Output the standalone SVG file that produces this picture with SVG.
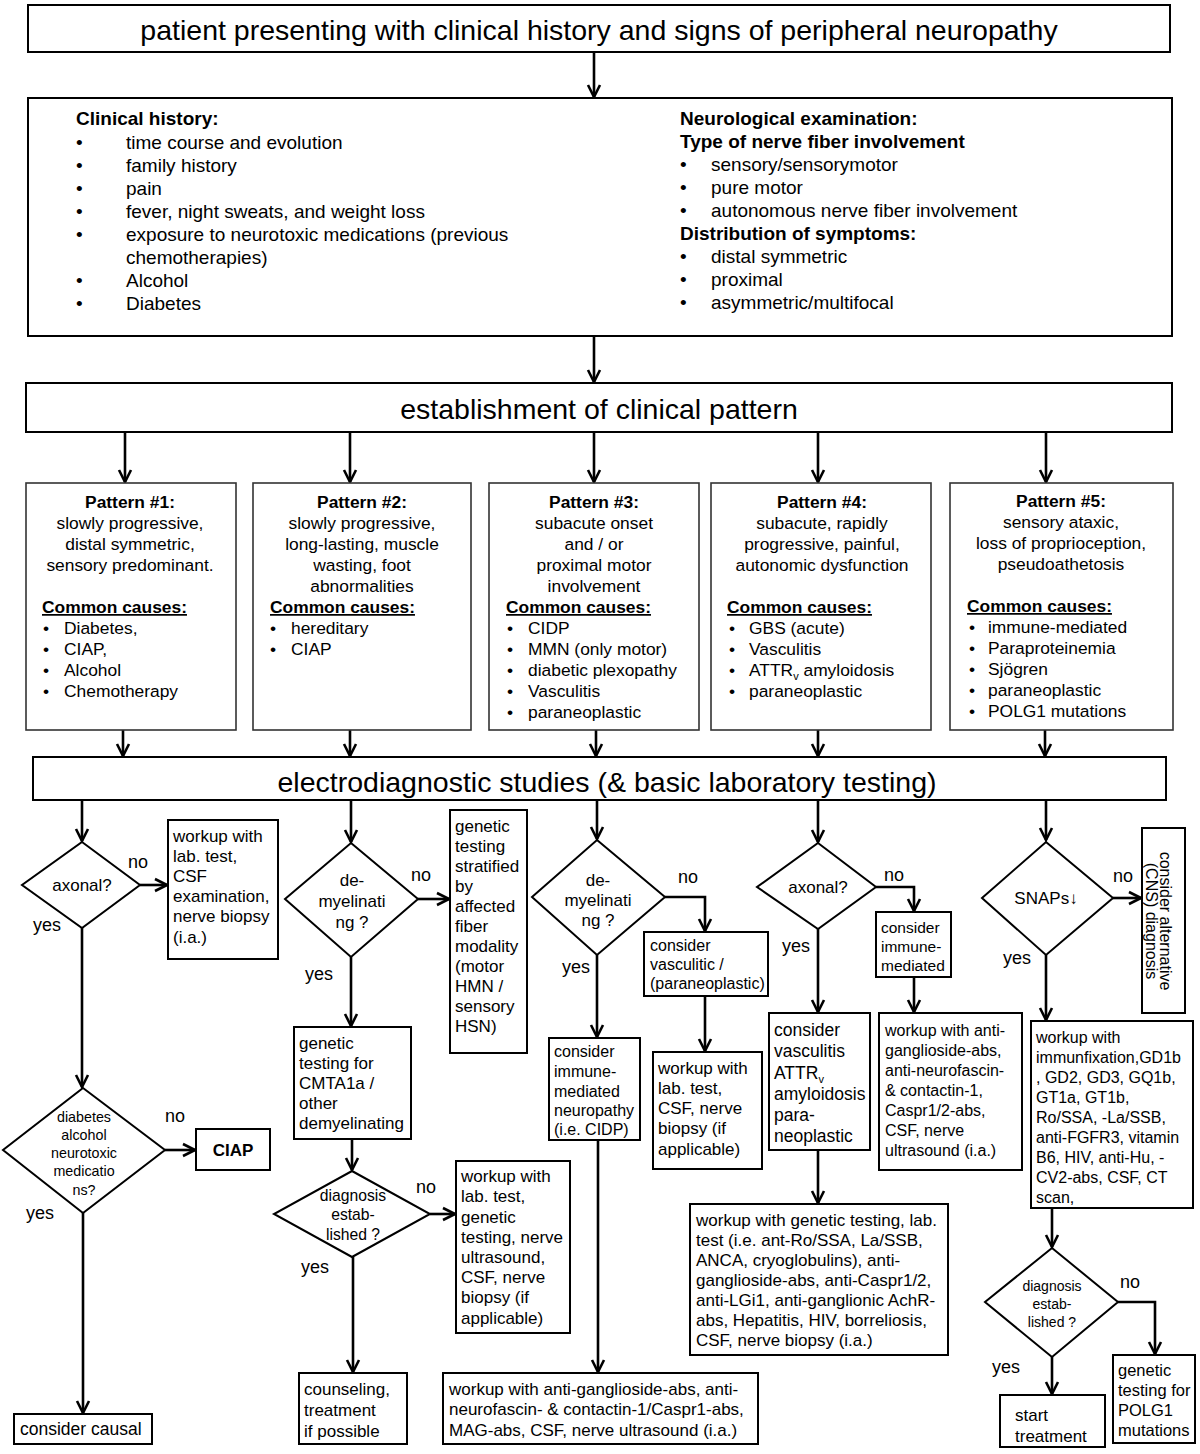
<svg xmlns="http://www.w3.org/2000/svg" width="1200" height="1454" viewBox="0 0 1200 1454">
<style>
text{font-family:"Liberation Sans",Arial,sans-serif;fill:#000}
.big{font-size:28.5px}
.cl{font-size:19px}
.pt{font-size:17.4px}
.bx{font-size:17px}
.b16{font-size:16px}
.lbl{font-size:18px}
.b{font-weight:bold}
.u{text-decoration:underline}
.mid{text-anchor:middle}
.box{fill:#fff;stroke:#000;stroke-width:2}
.pbox{fill:#fff;stroke:#333;stroke-width:1.6}
.con{fill:none;stroke:#000;stroke-width:2.6;marker-end:url(#ah)}
</style>
<defs>
<marker id="ah" markerUnits="userSpaceOnUse" markerWidth="16" markerHeight="16" viewBox="0 0 16 16" refX="14" refY="8" orient="auto">
<path d="M2,2 L14,8 L2,14" fill="none" stroke="#000" stroke-width="2.6"/>
</marker>
</defs>
<rect width="1200" height="1454" fill="#fff"/>

<g id="connectors">
<line class="con" x1="594" y1="52" x2="594" y2="97"/>
<line class="con" x1="594" y1="336" x2="594" y2="382"/>
<line class="con" x1="125" y1="432" x2="125" y2="482"/>
<line class="con" x1="350" y1="432" x2="350" y2="482"/>
<line class="con" x1="594" y1="432" x2="594" y2="482"/>
<line class="con" x1="818" y1="432" x2="818" y2="482"/>
<line class="con" x1="1046" y1="432" x2="1046" y2="482"/>
<line class="con" x1="123" y1="730" x2="123" y2="756"/>
<line class="con" x1="350" y1="730" x2="350" y2="756"/>
<line class="con" x1="596" y1="730" x2="596" y2="756"/>
<line class="con" x1="818" y1="730" x2="818" y2="756"/>
<line class="con" x1="1045" y1="730" x2="1045" y2="756"/>
<line class="con" x1="82" y1="800" x2="82" y2="841"/>
<line class="con" x1="140" y1="885" x2="167" y2="885"/>
<line class="con" x1="82" y1="928" x2="82" y2="1087"/>
<line class="con" x1="165" y1="1150" x2="195" y2="1150"/>
<line class="con" x1="83" y1="1213" x2="83" y2="1413"/>
<line class="con" x1="351" y1="800" x2="351" y2="842"/>
<line class="con" x1="418" y1="899" x2="449" y2="899"/>
<line class="con" x1="351" y1="957" x2="351" y2="1026"/>
<line class="con" x1="352" y1="1139" x2="352" y2="1170"/>
<line class="con" x1="430" y1="1214" x2="455" y2="1214"/>
<line class="con" x1="353" y1="1257" x2="353" y2="1372"/>
<line class="con" x1="597" y1="800" x2="597" y2="839"/>
<polyline class="con" points="665,897 705,897 705,931"/>
<line class="con" x1="597" y1="955" x2="597" y2="1037"/>
<line class="con" x1="705" y1="996" x2="705" y2="1051"/>
<line class="con" x1="598" y1="1140" x2="598" y2="1372"/>
<line class="con" x1="818" y1="800" x2="818" y2="842"/>
<polyline class="con" points="876,887 914,887 914,911"/>
<line class="con" x1="818" y1="929" x2="818" y2="1012"/>
<line class="con" x1="914" y1="977" x2="914" y2="1012"/>
<line class="con" x1="818" y1="1150" x2="818" y2="1203"/>
<line class="con" x1="1046" y1="800" x2="1046" y2="840"/>
<line class="con" x1="1113" y1="898" x2="1141" y2="898"/>
<line class="con" x1="1046" y1="955" x2="1046" y2="1020"/>
<line class="con" x1="1052" y1="1208" x2="1052" y2="1247"/>
<polyline class="con" points="1118,1302 1155,1302 1155,1354"/>
<line class="con" x1="1052" y1="1357" x2="1052" y2="1394"/>
</g>

<g id="top">
<rect class="box" x="28" y="5" width="1142" height="47"/>
<text class="big mid" x="599" y="40">patient presenting with clinical history and signs of peripheral neuropathy</text>
</g>

<g id="history">
<rect class="box" x="28" y="98" width="1144" height="238"/>
<text class="cl b" x="76" y="125">Clinical history:</text>
<text class="cl" x="76" y="149">•</text><text class="cl" x="126" y="149">time course and evolution</text>
<text class="cl" x="76" y="172">•</text><text class="cl" x="126" y="172">family history</text>
<text class="cl" x="76" y="195">•</text><text class="cl" x="126" y="195">pain</text>
<text class="cl" x="76" y="218">•</text><text class="cl" x="126" y="218">fever, night sweats, and weight loss</text>
<text class="cl" x="76" y="241">•</text><text class="cl" x="126" y="241">exposure to neurotoxic medications (previous</text>
<text class="cl" x="126" y="264">chemotherapies)</text>
<text class="cl" x="76" y="287">•</text><text class="cl" x="126" y="287">Alcohol</text>
<text class="cl" x="76" y="310">•</text><text class="cl" x="126" y="310">Diabetes</text>
<text class="cl b" x="680" y="125">Neurological examination:</text>
<text class="cl b" x="680" y="148">Type of nerve fiber involvement</text>
<text class="cl" x="680" y="171">•</text><text class="cl" x="711" y="171">sensory/sensorymotor</text>
<text class="cl" x="680" y="194">•</text><text class="cl" x="711" y="194">pure motor</text>
<text class="cl" x="680" y="217">•</text><text class="cl" x="711" y="217">autonomous nerve fiber involvement</text>
<text class="cl b" x="680" y="240">Distribution of symptoms:</text>
<text class="cl" x="680" y="263">•</text><text class="cl" x="711" y="263">distal symmetric</text>
<text class="cl" x="680" y="286">•</text><text class="cl" x="711" y="286">proximal</text>
<text class="cl" x="680" y="309">•</text><text class="cl" x="711" y="309">asymmetric/multifocal</text>
</g>

<g id="establishment">
<rect class="box" x="26" y="383" width="1146" height="49"/>
<text class="big mid" x="599" y="419">establishment of clinical pattern</text>
</g>

<g id="pattern1">
<rect class="pbox" x="26" y="483" width="210" height="247"/>
<text class="pt b mid" x="130" y="508">Pattern #1:</text>
<text class="pt mid" x="130" y="529">slowly progressive,</text>
<text class="pt mid" x="130" y="550">distal symmetric,</text>
<text class="pt mid" x="130" y="571">sensory predominant.</text>
<text class="pt b u" x="42" y="613">Common causes:</text>
<text class="pt" x="43" y="634">•</text><text class="pt" x="64" y="634">Diabetes,</text>
<text class="pt" x="43" y="655">•</text><text class="pt" x="64" y="655">CIAP,</text>
<text class="pt" x="43" y="676">•</text><text class="pt" x="64" y="676">Alcohol</text>
<text class="pt" x="43" y="697">•</text><text class="pt" x="64" y="697">Chemotherapy</text>
</g>

<g id="pattern2">
<rect class="pbox" x="253" y="483" width="218" height="247"/>
<text class="pt b mid" x="362" y="508">Pattern #2:</text>
<text class="pt mid" x="362" y="529">slowly progressive,</text>
<text class="pt mid" x="362" y="550">long-lasting, muscle</text>
<text class="pt mid" x="362" y="571">wasting, foot</text>
<text class="pt mid" x="362" y="592">abnormalities</text>
<text class="pt b u" x="270" y="613">Common causes:</text>
<text class="pt" x="270" y="634">•</text><text class="pt" x="291" y="634">hereditary</text>
<text class="pt" x="270" y="655">•</text><text class="pt" x="291" y="655">CIAP</text>
</g>

<g id="pattern3">
<rect class="pbox" x="489" y="483" width="210" height="247"/>
<text class="pt b mid" x="594" y="508">Pattern #3:</text>
<text class="pt mid" x="594" y="529">subacute onset</text>
<text class="pt mid" x="594" y="550">and / or</text>
<text class="pt mid" x="594" y="571">proximal motor</text>
<text class="pt mid" x="594" y="592">involvement</text>
<text class="pt b u" x="506" y="613">Common causes:</text>
<text class="pt" x="507" y="634">•</text><text class="pt" x="528" y="634">CIDP</text>
<text class="pt" x="507" y="655">•</text><text class="pt" x="528" y="655">MMN (only motor)</text>
<text class="pt" x="507" y="676">•</text><text class="pt" x="528" y="676">diabetic plexopathy</text>
<text class="pt" x="507" y="697">•</text><text class="pt" x="528" y="697">Vasculitis</text>
<text class="pt" x="507" y="718">•</text><text class="pt" x="528" y="718">paraneoplastic</text>
</g>

<g id="pattern4">
<rect class="pbox" x="711" y="483" width="220" height="247"/>
<text class="pt b mid" x="822" y="508">Pattern #4:</text>
<text class="pt mid" x="822" y="529">subacute, rapidly</text>
<text class="pt mid" x="822" y="550">progressive, painful,</text>
<text class="pt mid" x="822" y="571">autonomic dysfunction</text>
<text class="pt b u" x="727" y="613">Common causes:</text>
<text class="pt" x="729" y="634">•</text><text class="pt" x="749" y="634">GBS (acute)</text>
<text class="pt" x="729" y="655">•</text><text class="pt" x="749" y="655">Vasculitis</text>
<text class="pt" x="729" y="676">•</text><text class="pt" x="749" y="676">ATTR<tspan font-size="11" dy="4">v</tspan><tspan dy="-4"> amyloidosis</tspan></text>
<text class="pt" x="729" y="697">•</text><text class="pt" x="749" y="697">paraneoplastic</text>
</g>

<g id="pattern5">
<rect class="pbox" x="950" y="483" width="223" height="247"/>
<text class="pt b mid" x="1061" y="507">Pattern #5:</text>
<text class="pt mid" x="1061" y="528">sensory ataxic,</text>
<text class="pt mid" x="1061" y="549">loss of proprioception,</text>
<text class="pt mid" x="1061" y="570">pseudoathetosis</text>
<text class="pt b u" x="967" y="612">Common causes:</text>
<text class="pt" x="969" y="633">•</text><text class="pt" x="988" y="633">immune-mediated</text>
<text class="pt" x="969" y="654">•</text><text class="pt" x="988" y="654">Paraproteinemia</text>
<text class="pt" x="969" y="675">•</text><text class="pt" x="988" y="675">Sjögren</text>
<text class="pt" x="969" y="696">•</text><text class="pt" x="988" y="696">paraneoplastic</text>
<text class="pt" x="969" y="717">•</text><text class="pt" x="988" y="717">POLG1 mutations</text>
</g>

<g id="electro">
<rect class="box" x="33" y="757" width="1133" height="43"/>
<text class="big mid" x="607" y="792">electrodiagnostic studies (&amp; basic laboratory testing)</text>
</g>

<g id="d-axonal1">
<polygon class="box" points="82,842 140,885 82,928 22,885"/>
<text class="mid" font-size="17" x="82" y="891">axonal?</text>
</g>
<g id="b-workup1">
<rect class="box" x="168" y="820" width="110" height="139"/>
<text class="bx" x="173" y="842">workup with</text>
<text class="bx" x="173" y="862">lab. test,</text>
<text class="bx" x="173" y="882">CSF</text>
<text class="bx" x="173" y="902">examination,</text>
<text class="bx" x="173" y="922">nerve biopsy</text>
<text class="bx" x="173" y="943">(i.a.)</text>
</g>
<g id="d-diabetes">
<polygon class="box" points="83,1088 165,1150 83,1213 3,1150"/>
<g font-size="14.3">
<text class="mid" x="84" y="1122">diabetes</text>
<text class="mid" x="84" y="1140">alcohol</text>
<text class="mid" x="84" y="1158">neurotoxic</text>
<text class="mid" x="84" y="1176">medicatio</text>
<text class="mid" x="84" y="1195">ns?</text>
</g>
</g>
<g id="b-ciap">
<rect class="box" x="196" y="1129" width="74" height="41"/>
<text class="bx b mid" x="233" y="1156">CIAP</text>
</g>
<g id="b-causal">
<rect class="box" x="14" y="1414" width="138" height="30"/>
<text font-size="17.5" x="20" y="1435">consider causal</text>
</g>

<g id="d-demyel1">
<polygon class="box" points="351,843 418,899 351,957 285,899"/>
<text class="bx mid" x="352" y="886">de-</text>
<text class="bx mid" x="352" y="907">myelinati</text>
<text class="bx mid" x="352" y="928">ng ?</text>
</g>
<g id="b-genetic-strat">
<rect class="box" x="450" y="810" width="77" height="243"/>
<text class="bx" x="455" y="832">genetic</text>
<text class="bx" x="455" y="852">testing</text>
<text class="bx" x="455" y="872">stratified</text>
<text class="bx" x="455" y="892">by</text>
<text class="bx" x="455" y="912">affected</text>
<text class="bx" x="455" y="932">fiber</text>
<text class="bx" x="455" y="952">modality</text>
<text class="bx" x="455" y="972">(motor</text>
<text class="bx" x="455" y="992">HMN /</text>
<text class="bx" x="455" y="1012">sensory</text>
<text class="bx" x="455" y="1032">HSN)</text>
</g>
<g id="b-cmt">
<rect class="box" x="294" y="1027" width="117" height="112"/>
<text class="bx" x="299" y="1049">genetic</text>
<text class="bx" x="299" y="1069">testing for</text>
<text class="bx" x="299" y="1089">CMTA1a /</text>
<text class="bx" x="299" y="1109">other</text>
<text class="bx" x="299" y="1129">demyelinating</text>
</g>
<g id="d-diag1">
<polygon class="box" points="352,1171 430,1214 352,1257 274,1214"/>
<g font-size="15.7">
<text class="mid" x="353" y="1201">diagnosis</text>
<text class="mid" x="353" y="1220">estab-</text>
<text class="mid" x="353" y="1240">lished ?</text>
</g>
</g>
<g id="b-workup2">
<rect class="box" x="456" y="1161" width="114" height="172"/>
<text class="bx" x="461" y="1182">workup with</text>
<text class="bx" x="461" y="1202">lab. test,</text>
<text class="bx" x="461" y="1223">genetic</text>
<text class="bx" x="461" y="1243">testing, nerve</text>
<text class="bx" x="461" y="1263">ultrasound,</text>
<text class="bx" x="461" y="1283">CSF, nerve</text>
<text class="bx" x="461" y="1303">biopsy (if</text>
<text class="bx" x="461" y="1324">applicable)</text>
</g>
<g id="b-counsel">
<rect class="box" x="299" y="1373" width="108" height="71"/>
<text class="bx" x="304" y="1395">counseling,</text>
<text class="bx" x="304" y="1416">treatment</text>
<text class="bx" x="304" y="1437">if possible</text>
</g>

<g id="d-demyel2">
<polygon class="box" points="597,840 665,897 597,955 532,897"/>
<text class="bx mid" x="598" y="886">de-</text>
<text class="bx mid" x="598" y="906">myelinati</text>
<text class="bx mid" x="598" y="926">ng ?</text>
</g>
<g id="b-vasculitic">
<rect class="box" x="644" y="932" width="124" height="64"/>
<text class="b16" x="650" y="951">consider</text>
<text class="b16" x="650" y="970">vasculitic /</text>
<text class="b16" x="650" y="989">(paraneoplastic)</text>
</g>
<g id="b-immune1">
<rect class="box" x="549" y="1038" width="91" height="102"/>
<text class="b16" x="554" y="1057">consider</text>
<text class="b16" x="554" y="1077">immune-</text>
<text class="b16" x="554" y="1097">mediated</text>
<text class="b16" x="554" y="1116">neuropathy</text>
<text class="b16" x="554" y="1135">(i.e. CIDP)</text>
</g>
<g id="b-workup3">
<rect class="box" x="653" y="1052" width="109" height="117"/>
<text class="bx" x="658" y="1074">workup with</text>
<text class="bx" x="658" y="1094">lab. test,</text>
<text class="bx" x="658" y="1114">CSF, nerve</text>
<text class="bx" x="658" y="1134">biopsy (if</text>
<text class="bx" x="658" y="1155">applicable)</text>
</g>
<g id="b-workup4">
<rect class="box" x="443" y="1373" width="315" height="71"/>
<text class="bx" x="449" y="1395">workup with anti-ganglioside-abs, anti-</text>
<text class="bx" x="449" y="1415">neurofascin- &amp; contactin-1/Caspr1-abs,</text>
<text class="bx" x="449" y="1436">MAG-abs, CSF, nerve ultrasound (i.a.)</text>
</g>

<g id="d-axonal2">
<polygon class="box" points="818,843 876,887 818,929 757,887"/>
<text class="mid" font-size="17" x="818" y="893">axonal?</text>
</g>
<g id="b-immune2">
<rect class="box" x="876" y="912" width="75" height="65"/>
<g font-size="15.5">
<text x="881" y="933">consider</text>
<text x="881" y="952">immune-</text>
<text x="881" y="971">mediated</text>
</g>
</g>
<g id="b-vasc2">
<rect class="box" x="769" y="1013" width="101" height="137"/>
<g font-size="17.5">
<text x="774" y="1036">consider</text>
<text x="774" y="1057">vasculitis</text>
<text x="774" y="1079">ATTR<tspan font-size="11" dy="4">v</tspan></text>
<text x="774" y="1100">amyloidosis</text>
<text x="774" y="1121">para-</text>
<text x="774" y="1142">neoplastic</text>
</g>
</g>
<g id="b-workup5">
<rect class="box" x="879" y="1013" width="143" height="157"/>
<text class="b16" x="885" y="1036">workup with anti-</text>
<text class="b16" x="885" y="1056">ganglioside-abs,</text>
<text class="b16" x="885" y="1076">anti-neurofascin-</text>
<text class="b16" x="885" y="1096">&amp; contactin-1,</text>
<text class="b16" x="885" y="1116">Caspr1/2-abs,</text>
<text class="b16" x="885" y="1136">CSF, nerve</text>
<text class="b16" x="885" y="1156">ultrasound (i.a.)</text>
</g>
<g id="b-workup6">
<rect class="box" x="690" y="1204" width="258" height="151"/>
<text class="bx" x="696" y="1226">workup with genetic testing, lab.</text>
<text class="bx" x="696" y="1246">test (i.e. ant-Ro/SSA, La/SSB,</text>
<text class="bx" x="696" y="1266">ANCA, cryoglobulins), anti-</text>
<text class="bx" x="696" y="1286">ganglioside-abs, anti-Caspr1/2,</text>
<text class="bx" x="696" y="1306">anti-LGi1, anti-ganglionic AchR-</text>
<text class="bx" x="696" y="1326">abs, Hepatitis, HIV, borreliosis,</text>
<text class="bx" x="696" y="1346">CSF, nerve biopsy (i.a.)</text>
</g>

<g id="d-snaps">
<polygon class="box" points="1046,842 1113,898 1046,955 982,898"/>
<text class="mid" font-size="17" x="1046" y="904">SNAPs↓</text>
</g>
<g id="b-cns">
<rect class="box" x="1142" y="828" width="43" height="185"/>
<text class="b16 mid" transform="translate(1160,921) rotate(90)">consider alternative</text>
<text class="b16 mid" transform="translate(1146,921) rotate(90)">(CNS) diagnosis</text>
</g>
<g id="b-workup7">
<rect class="box" x="1031" y="1021" width="162" height="187"/>
<text class="b16" x="1036" y="1043">workup with</text>
<text class="b16" x="1036" y="1063">immunfixation,GD1b</text>
<text class="b16" x="1036" y="1083">, GD2, GD3, GQ1b,</text>
<text class="b16" x="1036" y="1103">GT1a, GT1b,</text>
<text class="b16" x="1036" y="1123">Ro/SSA, -La/SSB,</text>
<text class="b16" x="1036" y="1143">anti-FGFR3, vitamin</text>
<text class="b16" x="1036" y="1163">B6, HIV, anti-Hu, -</text>
<text class="b16" x="1036" y="1183">CV2-abs, CSF, CT</text>
<text class="b16" x="1036" y="1203">scan,</text>
</g>
<g id="d-diag2">
<polygon class="box" points="1052,1248 1118,1302 1052,1357 985,1302"/>
<g font-size="14">
<text class="mid" x="1052" y="1291">diagnosis</text>
<text class="mid" x="1052" y="1309">estab-</text>
<text class="mid" x="1052" y="1327">lished ?</text>
</g>
</g>
<g id="b-polg">
<rect class="box" x="1113" y="1355" width="82" height="88"/>
<g font-size="16.5">
<text x="1118" y="1376">genetic</text>
<text x="1118" y="1396">testing for</text>
<text x="1118" y="1416">POLG1</text>
<text x="1118" y="1436">mutations</text>
</g>
</g>
<g id="b-start">
<rect class="box" x="1000" y="1395" width="105" height="52"/>
<text class="bx" x="1015" y="1421">start</text>
<text class="bx" x="1015" y="1442">treatment</text>
</g>

<g id="labels">
<text class="lbl" x="128" y="868">no</text>
<text class="lbl" x="33" y="931">yes</text>
<text class="lbl" x="165" y="1122">no</text>
<text class="lbl" x="26" y="1219">yes</text>
<text class="lbl" x="411" y="881">no</text>
<text class="lbl" x="305" y="980">yes</text>
<text class="lbl" x="416" y="1193">no</text>
<text class="lbl" x="301" y="1273">yes</text>
<text class="lbl" x="678" y="883">no</text>
<text class="lbl" x="562" y="973">yes</text>
<text class="lbl" x="884" y="881">no</text>
<text class="lbl" x="782" y="952">yes</text>
<text class="lbl" x="1113" y="882">no</text>
<text class="lbl" x="1003" y="964">yes</text>
<text class="lbl" x="1120" y="1288">no</text>
<text class="lbl" x="992" y="1373">yes</text>
</g>
</svg>
